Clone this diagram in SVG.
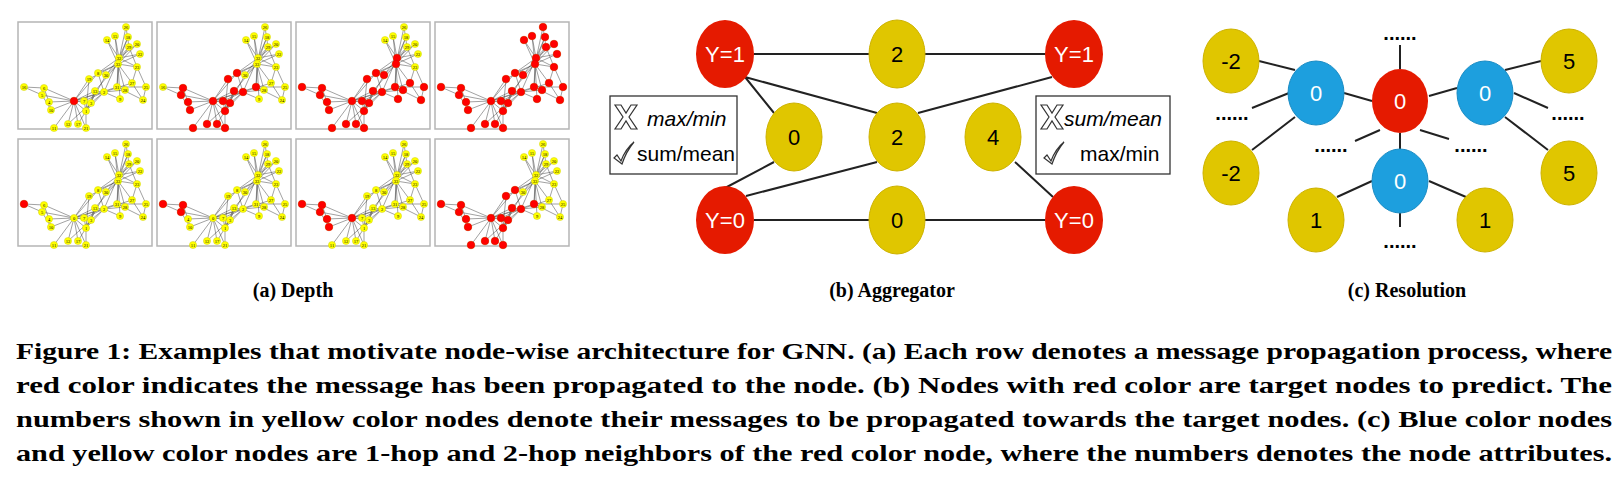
<svg xmlns="http://www.w3.org/2000/svg" xmlns:xlink="http://www.w3.org/1999/xlink" width="1623" height="478" viewBox="0 0 1623 478">
<style>
.pb{fill:#fff;stroke:#b5b5b5;stroke-width:1.5}
.ke{stroke:#444;stroke-width:0.5;fill:none}
.ky{fill:#ffff00;stroke:#c8c800;stroke-width:0.4}
.kr{fill:#f00;stroke:#c00;stroke-width:0.4}
.kl{font-family:"Liberation Serif",serif;font-size:4.5px;text-anchor:middle}
.e{stroke:#222;stroke-width:2;fill:none}
.red{fill:#e51a00}
.yel{fill:#e0c600;stroke:#cdb200;stroke-width:1}
.blu{fill:#1d9fde;stroke:#1a8cc4;stroke-width:1}
.t{font-family:"Liberation Sans",Arial,sans-serif;font-size:22px;text-anchor:middle}
.w{fill:#fff}
.bx{fill:#fff;stroke:#333;stroke-width:1.3}
.bt{font-family:"Liberation Sans",Arial,sans-serif;font-size:21px}
.dots{font-family:"Liberation Sans",Arial,sans-serif;font-size:20px;font-weight:bold;text-anchor:middle}
.cap{font-family:"Liberation Serif",serif;font-weight:bold}
.mk{fill:none;stroke:#333;stroke-width:1.2}
</style>
<defs>
<g id="kg">
<path class="ke" d="M61 81L73 91M61 81L91 72M61 81L78 83M61 81L36 82M61 81L29 75M61 81L31 68M61 81L71 81M61 81L85 53M61 81L38 90M61 81L41 108M61 81L55 104M61 81L82 71M61 81L65 104M61 81L76 59M61 81L73 108M61 81L104 67
M73 91L91 72M73 91L78 83M73 91L71 81M73 91L82 71M73 91L65 104M73 91L76 59M73 91L73 108M73 91L93 55
M91 72L78 83M91 72L71 81M91 72L85 53M91 72L107 79M91 72L82 71M91 72L119 63M91 72L112 70M91 72L106 38
M78 83L71 81M78 83L55 104M78 83L82 71M36 82L31 68M36 82L38 90M29 75L31 68M29 75L38 90M29 75L11 67M31 68L11 67
M85 53L93 55M85 53L106 38M85 53L105 44M107 79L105 44M82 71L105 44M94 20L106 38M94 20L105 44M102 16L106 38M102 16L105 44
M115 17L106 38M115 17L105 44M76 59L105 44M124 24L106 38M124 24L105 44M127 34L106 38M127 34L105 44
M124 47L133 67M124 47L119 63M124 47L116 27M124 47L106 38M124 47L105 44M130 80L133 67M130 80L119 63M130 80L104 67M133 67L104 67
M113 7L116 27M113 7L105 44M119 63L105 44M112 70L104 67M112 70L105 44M116 27L106 38M116 27L105 44M93 55L106 38M93 55L105 44M104 67L106 38M104 67L105 44M106 38L105 44"/>
<g class="ky">
<circle cx="61" cy="81" r="3.6"/><circle cx="73" cy="91" r="3.6"/><circle cx="91" cy="72" r="3.6"/><circle cx="78" cy="83" r="3.6"/><circle cx="36" cy="82" r="3.6"/><circle cx="29" cy="75" r="3.6"/><circle cx="31" cy="68" r="3.6"/><circle cx="71" cy="81" r="3.6"/><circle cx="85" cy="53" r="3.6"/><circle cx="107" cy="79" r="3.6"/><circle cx="38" cy="90" r="3.6"/><circle cx="41" cy="108" r="3.6"/><circle cx="55" cy="104" r="3.6"/><circle cx="82" cy="71" r="3.6"/><circle cx="94" cy="20" r="3.6"/><circle cx="102" cy="16" r="3.6"/><circle cx="11" cy="67" r="3.6"/><circle cx="65" cy="104" r="3.6"/><circle cx="115" cy="17" r="3.6"/><circle cx="76" cy="59" r="3.6"/><circle cx="124" cy="24" r="3.6"/><circle cx="73" cy="108" r="3.6"/><circle cx="127" cy="34" r="3.6"/><circle cx="124" cy="47" r="3.6"/><circle cx="130" cy="80" r="3.6"/><circle cx="133" cy="67" r="3.6"/><circle cx="113" cy="7" r="3.6"/><circle cx="119" cy="63" r="3.6"/><circle cx="112" cy="70" r="3.6"/><circle cx="116" cy="27" r="3.6"/><circle cx="93" cy="55" r="3.6"/><circle cx="104" cy="67" r="3.6"/><circle cx="106" cy="38" r="3.6"/><circle cx="105" cy="44" r="3.6"/>
</g>
<g class="kl">
<text x="61" y="82.6">0</text><text x="73" y="92.6">1</text><text x="91" y="73.6">2</text><text x="78" y="84.6">3</text><text x="36" y="83.6">4</text><text x="29" y="76.6">5</text><text x="31" y="69.6">6</text><text x="71" y="82.6">7</text><text x="85" y="54.6">8</text><text x="107" y="80.6">9</text><text x="38" y="91.6">10</text><text x="41" y="109.6">11</text><text x="55" y="105.6">12</text><text x="82" y="72.6">13</text><text x="94" y="21.6">14</text><text x="102" y="17.6">15</text><text x="11" y="68.6">16</text><text x="65" y="105.6">17</text><text x="115" y="18.6">18</text><text x="76" y="60.6">19</text><text x="124" y="25.6">20</text><text x="73" y="109.6">21</text><text x="127" y="35.6">22</text><text x="124" y="48.6">23</text><text x="130" y="81.6">24</text><text x="133" y="68.6">25</text><text x="113" y="8.6">26</text><text x="119" y="64.6">27</text><text x="112" y="71.6">28</text><text x="116" y="28.6">29</text><text x="93" y="56.6">30</text><text x="104" y="68.6">31</text><text x="106" y="39.6">32</text><text x="105" y="45.6">33</text>
</g>
</g>
<g id="G0" class="kr"><circle cx="61" cy="81" r="3.8"/></g>
<g id="G1" class="kr"><circle cx="36" cy="82" r="3.8"/><circle cx="38" cy="90" r="3.8"/></g>
<g id="F" class="kr"><circle cx="29" cy="75" r="3.8"/><circle cx="31" cy="68" r="3.8"/></g>
<g id="E" class="kr"><circle cx="11" cy="67" r="3.8"/></g>
<g id="H" class="kr"><circle cx="73" cy="91" r="3.8"/><circle cx="91" cy="72" r="3.8"/><circle cx="78" cy="83" r="3.8"/><circle cx="71" cy="81" r="3.8"/><circle cx="85" cy="53" r="3.8"/><circle cx="41" cy="108" r="3.8"/><circle cx="55" cy="104" r="3.8"/><circle cx="82" cy="71" r="3.8"/><circle cx="65" cy="104" r="3.8"/><circle cx="76" cy="59" r="3.8"/><circle cx="73" cy="108" r="3.8"/><circle cx="104" cy="67" r="3.8"/></g>
<g id="B" class="kr"><circle cx="107" cy="79" r="3.8"/><circle cx="130" cy="80" r="3.8"/><circle cx="133" cy="67" r="3.8"/><circle cx="119" cy="63" r="3.8"/><circle cx="112" cy="70" r="3.8"/><circle cx="93" cy="55" r="3.8"/><circle cx="106" cy="38" r="3.8"/><circle cx="105" cy="44" r="3.8"/></g>
<g id="C" class="kr"><circle cx="94" cy="20" r="3.8"/><circle cx="102" cy="16" r="3.8"/><circle cx="115" cy="17" r="3.8"/><circle cx="124" cy="24" r="3.8"/><circle cx="127" cy="34" r="3.8"/><circle cx="124" cy="47" r="3.8"/><circle cx="113" cy="7" r="3.8"/><circle cx="116" cy="27" r="3.8"/></g>
<path id="xm" class="mk" d="M0 0h6l5 8l5-8h6l-8 12l8 12h-6l-5-8l-5 8h-6l8-12z"/>
<path id="ck" class="mk" d="M0 14l3-3l4 6c3-8 8-15 13-19c-5 6-9 13-12 22z"/>
</defs>

<g id="panel-a">
<rect class="pb" x="18" y="22" width="134" height="107"/>
<rect class="pb" x="157" y="22" width="134" height="107"/>
<rect class="pb" x="296" y="22" width="134" height="107"/>
<rect class="pb" x="435" y="22" width="134" height="107"/>
<rect class="pb" x="18" y="139" width="134" height="107"/>
<rect class="pb" x="157" y="139" width="134" height="107"/>
<rect class="pb" x="296" y="139" width="134" height="107"/>
<rect class="pb" x="435" y="139" width="134" height="107"/>
<g transform="translate(13,20)"><use xlink:href="#kg"/><use xlink:href="#G0"/></g>
<g transform="translate(152,20)"><use xlink:href="#kg"/><use xlink:href="#G0"/><use xlink:href="#G1"/><use xlink:href="#F"/><use xlink:href="#H"/></g>
<g transform="translate(291,20)"><use xlink:href="#kg"/><use xlink:href="#G0"/><use xlink:href="#G1"/><use xlink:href="#F"/><use xlink:href="#H"/><use xlink:href="#E"/><use xlink:href="#B"/></g>
<g transform="translate(430,20)"><use xlink:href="#kg"/><use xlink:href="#G0"/><use xlink:href="#G1"/><use xlink:href="#F"/><use xlink:href="#H"/><use xlink:href="#E"/><use xlink:href="#B"/><use xlink:href="#C"/></g>
<g transform="translate(13,137)"><use xlink:href="#kg"/><use xlink:href="#E"/></g>
<g transform="translate(152,137)"><use xlink:href="#kg"/><use xlink:href="#E"/><use xlink:href="#F"/></g>
<g transform="translate(291,137)"><use xlink:href="#kg"/><use xlink:href="#E"/><use xlink:href="#F"/><use xlink:href="#G0"/><use xlink:href="#G1"/></g>
<g transform="translate(430,137)"><use xlink:href="#kg"/><use xlink:href="#E"/><use xlink:href="#F"/><use xlink:href="#G0"/><use xlink:href="#G1"/><use xlink:href="#H"/></g>
</g>

<g id="connectors">
<path class="e" d="M754 54H1045M745 77L774 113M745 77L877 113M918 113L1052 77M774 162L725 188M877 162L746 196M1015 162L1053 197M754 220H1045"/>
<path class="e" d="M1259 61L1295 70M1289 93L1252 108M1295 117L1252 150M1344 93L1372 101M1400 45V69M1380 130L1355 141M1420 130L1449 139M1429 96L1457 88M1400 133V149M1372 181L1337 197M1429 181L1466 197M1400 213V227M1505 70L1541 61M1514 93L1548 108M1505 117L1548 150"/>
</g>

<g id="b-y1l"><ellipse class="red" cx="725" cy="54" rx="29" ry="34"/><text class="t w" x="725" y="62">Y=1</text></g>
<g id="b-2t"><ellipse class="yel" cx="897" cy="54" rx="28" ry="34"/><text class="t" x="897" y="62">2</text></g>
<g id="b-y1r"><ellipse class="red" cx="1074" cy="54" rx="29" ry="34"/><text class="t w" x="1074" y="62">Y=1</text></g>
<g id="b-0m"><ellipse class="yel" cx="794" cy="137" rx="28" ry="34"/><text class="t" x="794" y="145">0</text></g>
<g id="b-2m"><ellipse class="yel" cx="897" cy="137" rx="28" ry="34"/><text class="t" x="897" y="145">2</text></g>
<g id="b-4m"><ellipse class="yel" cx="993" cy="137" rx="28" ry="34"/><text class="t" x="993" y="145">4</text></g>
<g id="b-y0l"><ellipse class="red" cx="725" cy="220" rx="29" ry="34"/><text class="t w" x="725" y="228">Y=0</text></g>
<g id="b-0b"><ellipse class="yel" cx="897" cy="220" rx="28" ry="34"/><text class="t" x="897" y="228">0</text></g>
<g id="b-y0r"><ellipse class="red" cx="1074" cy="220" rx="29" ry="34"/><text class="t w" x="1074" y="228">Y=0</text></g>

<g id="box-left">
<rect class="bx" x="610" y="96" width="127" height="78"/>
<use xlink:href="#xm" x="615" y="105"/>
<text class="bt" x="647" y="126" font-style="italic">max/min</text>
<use xlink:href="#ck" x="614" y="144"/>
<text class="bt" x="637" y="161">sum/mean</text>
</g>
<g id="box-right">
<rect class="bx" x="1036" y="96" width="134" height="78"/>
<use xlink:href="#xm" x="1041" y="105"/>
<text class="bt" x="1064" y="126" font-style="italic">sum/mean</text>
<use xlink:href="#ck" x="1044" y="144"/>
<text class="bt" x="1080" y="161">max/min</text>
</g>

<g id="c-m2t"><ellipse class="yel" cx="1231" cy="61" rx="28" ry="32"/><text class="t" x="1231" y="69">-2</text></g>
<g id="c-m2b"><ellipse class="yel" cx="1231" cy="173" rx="28" ry="32"/><text class="t" x="1231" y="181">-2</text></g>
<g id="c-bl"><ellipse class="blu" cx="1316" cy="93" rx="28" ry="32"/><text class="t w" x="1316" y="101">0</text></g>
<g id="c-red"><ellipse class="red" cx="1400" cy="101" rx="28" ry="32"/><text class="t w" x="1400" y="109">0</text></g>
<g id="c-br"><ellipse class="blu" cx="1485" cy="93" rx="28" ry="32"/><text class="t w" x="1485" y="101">0</text></g>
<g id="c-bb"><ellipse class="blu" cx="1400" cy="181" rx="28" ry="32"/><text class="t w" x="1400" y="189">0</text></g>
<g id="c-1l"><ellipse class="yel" cx="1316" cy="220" rx="28" ry="32"/><text class="t" x="1316" y="228">1</text></g>
<g id="c-1r"><ellipse class="yel" cx="1485" cy="220" rx="28" ry="32"/><text class="t" x="1485" y="228">1</text></g>
<g id="c-5t"><ellipse class="yel" cx="1569" cy="61" rx="28" ry="32"/><text class="t" x="1569" y="69">5</text></g>
<g id="c-5b"><ellipse class="yel" cx="1569" cy="173" rx="28" ry="32"/><text class="t" x="1569" y="181">5</text></g>
<g class="dots">
<text x="1400" y="40">......</text>
<text x="1232" y="120">......</text>
<text x="1331" y="152">......</text>
<text x="1471" y="152">......</text>
<text x="1568" y="120">......</text>
<text x="1400" y="248">......</text>
</g>

<g class="cap">
<text x="293" y="297" font-size="20" text-anchor="middle">(a) Depth</text>
<text x="892" y="297" font-size="20" text-anchor="middle">(b) Aggregator</text>
<text x="1407" y="297" font-size="20" text-anchor="middle">(c) Resolution</text>
<g font-size="23">
<text x="16" y="359" textLength="1596" lengthAdjust="spacingAndGlyphs">Figure 1: Examples that motivate node-wise architecture for GNN. (a) Each row denotes a message propagation process, where</text>
<text x="16" y="393" textLength="1596" lengthAdjust="spacingAndGlyphs">red color indicates the message has been propagated to the node. (b) Nodes with red color are target nodes to predict. The</text>
<text x="16" y="427" textLength="1596" lengthAdjust="spacingAndGlyphs">numbers shown in yellow color nodes denote their messages to be propagated towards the target nodes. (c) Blue color nodes</text>
<text x="16" y="461" textLength="1596" lengthAdjust="spacingAndGlyphs">and yellow color nodes are 1-hop and 2-hop neighbors of the red color node, where the numbers denotes the node attributes.</text>
</g>
</g>
</svg>
